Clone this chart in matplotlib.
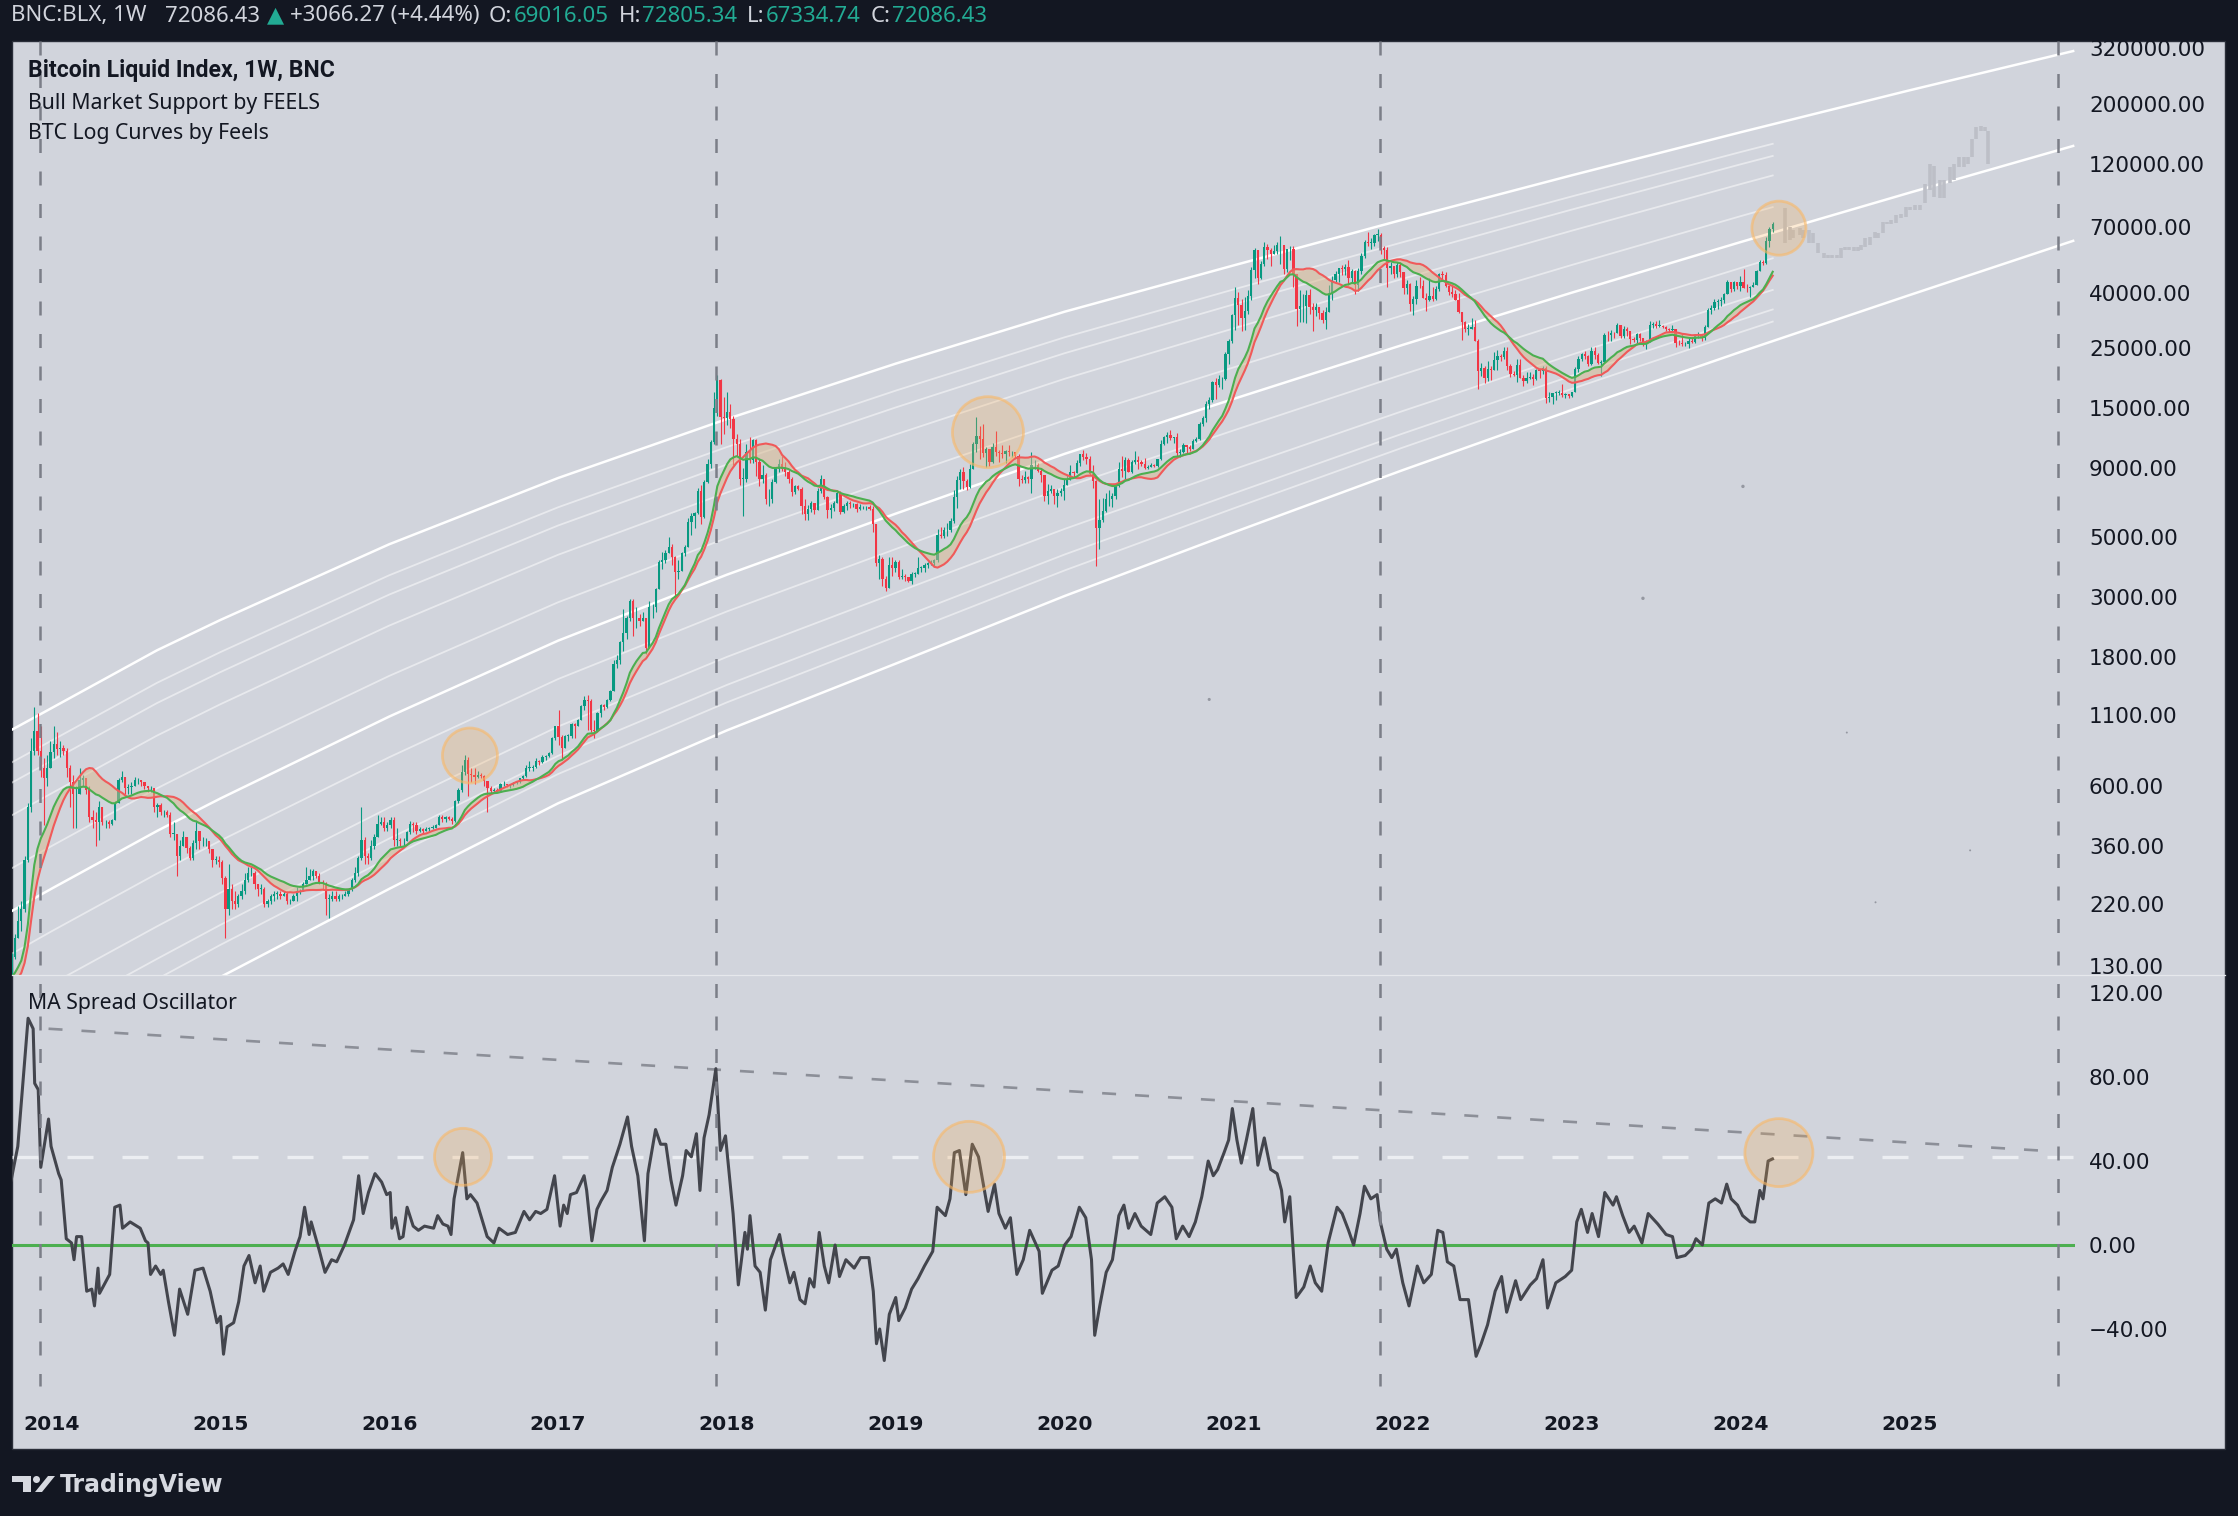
import numpy as np
import pandas as pd
import matplotlib
matplotlib.use("Agg")
import matplotlib.pyplot as plt
import matplotlib.ticker as mticker
from matplotlib.lines import Line2D
from matplotlib.patches import Rectangle, Polygon, Ellipse
from matplotlib.transforms import blended_transform_factory

# weekly candles (close, high, low), Monday dated, last week = 2024-03-11
w2013 = [(122,125,110),(131,134,120),(129,135,118),(108,125,100),(100,110,95),(107,112,98),(92,107,88),
         (76,95,66),(97,99,72),(90,100,86),(95,97,87),(104,106,94),(106,110,100),(101,108,96),(120,124,100),
         (128,135,118),(122,130,110),(125,132,120),(124,128,120),(131,134,122),(124,143,100),(140,145,120),
         (165,170,138),(190,216,165),(210,225,175),(320,330,205),(500,520,315),(810,900,480),(960,1175,780),
         (810,1120,780),(700,1000,650),(640,760,430),(700,780,600),(800,880,700)]
w2014 = [(860,1000,760),(820,950,780),(830,880,770),(810,850,780),(700,830,650),(620,720,500),(560,660,420),
         (560,600,420),(630,700,560),(640,660,600),(580,640,560),(460,600,440),(450,490,420),(440,480,360),
         (500,530,380),(440,500,430),(440,450,420),(435,450,420),(450,455,430),(520,530,450),(630,640,520),
         (650,680,620),(590,650,560),(595,610,560),(600,620,560),(630,650,600),(630,640,610),(620,630,600),
         (600,620,585),(590,600,570),(590,600,570),(500,590,480),(510,520,460),(480,520,470),(480,490,460),
         (470,490,460),(400,480,390),(400,440,380),(330,400,280),(360,380,320),(390,410,360),(355,380,340),
         (325,360,320),(370,380,320),(410,450,350),(375,400,350),(375,390,360),(375,385,360),(350,360,340),
         (320,350,300),(320,330,310),(315,330,300)]
w2015 = [(275,320,260),(210,280,165),(250,310,200),(225,260,210),(220,245,210),(235,240,215),(245,260,230),
         (270,285,240),(285,300,265),(285,300,280),(260,290,250),(250,260,235),(250,260,240),(220,255,215),
         (225,230,215),(235,240,220),(240,245,225),(240,245,230),(235,245,230),(240,245,235),(225,245,220),
         (225,230,220),(235,240,225),(245,255,225),(245,250,240),(260,265,245),(270,300,260),(280,295,270),
         (290,295,270),(280,290,275),(265,285,260),(260,270,250),(230,265,200),(230,240,195),(235,245,225),
         (230,245,225),(235,240,225),(235,240,230),(240,245,235),(250,250,235),(270,275,245),(285,300,265),
         (325,330,280),(380,500,320),(330,390,310),(325,340,310),(360,380,320),(390,400,350),(435,470,390),
         (440,460,430),(420,460,410),(430,440,410)]
w2016 = [(450,460,420),(380,460,360),(380,420,360),(375,385,360),(375,385,360),(405,410,375),(435,445,400),
         (430,440,405),(410,440,400),(415,425,405),(410,420,400),(415,425,410),(420,425,410),(420,430,415),
         (430,435,420),(460,470,430),(455,470,440),(460,465,440),(455,465,450),(445,460,435),(530,535,440),
         (580,590,520),(675,720,570),(750,780,660),(665,770,550),(660,700,620),(650,700,610),(660,680,640),
         (655,670,640),(625,660,600),(590,620,480),(575,600,560),(580,590,570),(575,590,570),(610,615,570),
         (610,625,600),(605,610,595),(605,610,590),(615,620,600),(620,625,610),(640,645,615),(655,660,630),
         (700,720,650),(700,740,680),(705,720,680),(740,760,700),(735,750,720),(765,780,730),(775,780,750),
         (795,800,770),(900,910,790),(1000,1000,890)]
w2017 = [(910,1150,850),(830,930,750),(920,930,830),(920,935,880),(1020,1030,900),(1000,1030,900),
         (1050,1060,1000),(1190,1200,1050),(1250,1290,1150),(1235,1300,970),(970,1260,950),(960,1050,900),
         (1120,1130,950),(1200,1210,1080),(1180,1210,1150),(1250,1260,1170),(1350,1360,1240),(1700,1750,1350),
         (1750,1830,1640),(2050,2070,1700),(2200,2700,1900),(2500,2550,2100),(2900,2950,2450),(2500,2950,2150),
         (2500,2750,2300),(2450,2600,2350),(2500,2650,2450),(1950,2450,1850),(2750,2900,1950),(2750,2820,2500),
         (3200,3250,2650),(4050,4100,3200),(4100,4400,3800),(4350,4460,3990),(4600,4980,4400),(4200,4700,3950),
         (3700,4250,2970),(3750,4100,3500),(4350,4400,3800),(4600,4650,4250),(5700,5860,4600),(6000,6150,5100),
         (6150,6200,5400),(7400,7600,6100),(5950,7800,5600),(8000,8100,5900),(9300,9700,7900),(11200,11400,9000),
         (15000,17200,11000),(19000,19800,14000),(13900,19200,11000),(13800,16500,12000)]
w2018 = [(14500,17200,13000),(13600,15500,12600),(11500,14000,9200),(11000,12000,10000),(8200,11500,7800),
         (8200,9000,6000),(10300,11000,8000),(9600,11700,9400),(11400,11500,9400),(9500,11500,8400),
         (8200,9800,7700),(8500,9200,7900),(6900,8600,6600),(6900,7500,6500),(8000,8200,6700),(8900,9000,7900),
         (9300,9700,8700),(8900,9950,8800),(8700,9500,8400),(8200,8850,7900),(7350,8300,7100),(7700,7800,7200),
         (7500,7800,7450),(6500,7650,6100),(6100,6900,5800),(6350,6550,5800),(6700,6800,6200),(6300,6700,6100),
         (7400,7600,6300),(8200,8500,7300),(7000,8200,6900),(6300,7100,5900),(6400,6600,5900),(6700,6800,6250),
         (7300,7400,6700),(6200,7400,6100),(6500,6600,6150),(6700,6800,6300),(6600,6800,6400),(6600,6700,6450),
         (6350,6650,6200),(6450,6600,6300),(6450,6500,6350),(6450,6500,6300),(6350,6550,6300),(5600,6500,5200),
         (4000,5600,3900),(4150,4300,3500),(3500,4200,3300),(3250,3600,3150),(3950,4200,3250),(3850,4200,3600),
         (4050,4100,3700)]
w2019 = [(3550,4100,3500),(3600,3800,3500),(3550,3650,3450),(3450,3550,3400),(3650,3700,3350),(3650,3700,3550),
         (3850,4200,3650),(3850,3900,3700),(3950,3990,3700),(4000,4050,3850),(4000,4100,3950),(4100,4150,3900),
         (5100,5350,4050),(5050,5450,4950),(5300,5450,4950),(5300,5650,5050),(5750,5900,5200),(7000,7450,5650),
         (8100,8400,6400),(8700,8900,7500),(8050,9100,7500),(7650,8200,7450),(8950,9300,7600),(11000,11200,8900),
         (11850,13900,10300),(11500,12900,9700),(10200,13100,9900),(10600,10800,9050),(9500,10600,9150),
         (10800,11100,9400),(10300,12300,10000),(10200,10500,9500),(10150,10900,9800),(10400,10500,9350),
         (10300,10900,10000),(10300,10400,9900),(10000,10300,9750),(8200,10100,7700),(8150,8500,7900),
         (8300,8800,7900),(8200,8400,7900),(9200,10300,7300),(9200,9600,8900),(8800,9350,8700),(8500,8900,8000),
         (7100,8300,6800),(7400,7850,6600),(7550,7750,7250),(7100,7550,6600),(7250,7500,6450),(7400,7600,7100),
         (7750,8200,6850)]
w2020 = [(8150,8500,7750),(8700,9200,8100),(8600,8800,8300),(9400,9600,8600),(10100,10150,9150),(9900,10500,9650),
         (9700,10200,9300),(8550,9950,8500),(8050,9200,7600),(5400,8150,3900),(5800,6900,4500),(6250,6950,5700),
         (6900,7300,6200),(6900,7450,6500),(7100,7300,6450),(7700,7800,6900),(8900,9450,7650),(8750,10000,8350),
         (9650,9850,8200),(8700,9800,8700),(9450,9600,8650),(9650,10400,9300),(9450,9950,8950),(9300,9600,9150),
         (9000,9800,8900),(9100,9200,8950),(9250,9400,9050),(9150,9300,9050),(9700,9750,9100),(11050,11400,9650),
         (11700,11850,10950),(11900,12200,11150),(11650,12450,11400),(11700,11750,11100),(10250,12100,9900),
         (10300,10600,9900),(10900,11150,10200),(10800,10950,10150),(10600,10950,10400),(11300,11500,10550),
         (11500,11750,11200),(13100,13350,11450),(13800,14050,12900),(15500,15900,13250),(16050,16500,14800),
         (18700,18900,15800),(18200,19400,16200),(19150,19900,18000),(19250,19450,17600),(23800,24200,19050),
         (26500,27000,21800),(33000,33500,26100)]
w2021 = [(38200,41950,29000),(36000,40100,30400),(32200,37900,28800),(34300,38500,29200),(39000,40950,33400),
         (48600,49700,37500),(57500,58300,45500),(45200,57400,43000),(51000,52600,44900),(59000,61800,50300),
         (57400,60600,53200),(55800,58400,50400),(57100,60200,56000),(60000,61500,55500),(60000,64850,51000),
         (49100,57400,47000),(57800,58000,47600),(58200,59600,53000),(46800,59600,42100),(34800,46600,30000),
         (35700,40800,31100),(35800,39500,31200),(39100,40900,31000),(35500,41400,33300),(34600,36700,28800),
         (35300,36600,32700),(33700,35000,32100),(31800,34600,31000),(34000,35400,29300),(39900,42600,34000),
         (44600,46200,37500),(47000,48000,43800),(49300,49400,43900),(48900,50500,46500),(49900,51000,46500),
         (45200,52900,42800),(48300,48800,43500),(42800,48400,39600),(48200,49200,40700),(54700,56100,47100),
         (61500,62900,53900),(61300,67000,59500),(61300,63700,58000),(65500,66000,59600),(65500,69000,62300),
         (58600,66300,55600),(57300,59400,53300),(49400,59100,42000),(50100,51900,46800),(46800,49500,45500),
         (50800,51900,45600),(47700,52100,45700)]
w2022 = [(41800,47500,39700),(43100,44400,39600),(36300,43500,34100),(37900,38900,32950),(42400,44500,36300),
         (42200,45800,41800),(38300,44500,38100),(37700,40000,34300),(38800,45400,37200),(37800,42000,37200),
         (41300,42300,37600),(46800,47300,40500),(46400,48200,44200),(42200,47700,42100),(40400,42400,39200),
         (39500,42900,38600),(37700,40800,37600),(34000,39900,33700),(31300,34000,26700),(29400,31400,28600),
         (29400,30600,28000),(29900,32200,29300),(26600,31700,26600),(20550,26900,17600),(21000,21900,19600),
         (19300,21500,18600),(20850,22400,18900),(20800,21500,18950),(22600,24200,20800),(23300,24600,20700),
         (23200,23650,22400),(24300,25200,22700),(21500,25200,20800),(20000,21800,19550),(19800,20550,19600),
         (21650,22700,18700),(19400,22800,19300),(18800,19900,18150),(19300,20350,18500),(19450,20450,19150),
         (19200,19950,18200),(20800,20850,18950),(20600,21050,19300),(21100,21450,20050),(16300,21450,15600),
         (16500,17150,15800),(17050,17100,15450),(17100,17350,16000),(17100,17450,16700),(16750,18400,16500),
         (16850,17000,16300),(16600,16950,16300)]
w2023 = [(17150,17200,16500),(20850,21300,17200),(22700,23300,20400),(23750,23950,22300),(23300,24250,22700),
         (21800,23450,21400),(24300,25250,21550),(23550,25100,22800),(22000,23850,21800),(22100,22600,19600),
         (28000,28500,21900),(27800,28900,26600),(28450,29200,26550),(28300,28700,27300),(30300,31000,28300),
         (27600,30450,27100),(29250,30050,27150),(28800,29800,27750),(26900,28300,25800),(26750,27400,26400),
         (28100,28450,26000),(27100,28450,26600),(25850,27300,25350),(26350,26800,24800),(30500,31400,26300),
         (30600,31300,29500),(30200,31500,29700),(30250,31800,29950),(29850,30300,29500),(29300,30000,28900),
         (29050,29700,28600),(29400,30300,28700),(26100,29450,25200),(26000,26800,25600),(25850,28150,25350),
         (25850,26400,25500),(26550,27450,24900),(26250,27500,26000),(27950,28000,26000),(27950,28600,27200),
         (27150,28000,26550),(29900,30350,26800),(34500,35200,29800),(35000,35900,33400),(37050,37950,34600),
         (37350,37950,34800),(37450,38450,35700),(39450,40000,36700),(43750,44700,39400),(41350,43450,40200),
         (43700,44200,40600),(42250,43800,41400)]
w2024 = [(43950,45950,40600),(41750,48950,41500),(41600,43200,40300),(42050,42250,38500),(42600,43800,41900),
         (48300,48550,42550),(52100,52800,48100),(51700,52950,50600),(62000,64000,51000),(69016,70100,59000),
         (72086,72805,67334)]

# faded projection bars (year, low, high)
ghost = [(2024.265,60900,82000),(2024.293,62600,70100),(2024.313,63500,68200),(2024.350,65400,69200),
         (2024.370,63500,68200),(2024.407,60900,68200),(2024.431,60900,66300),(2024.462,55900,60900),
         (2024.492,53600,55900),(2024.517,53600,55100),(2024.543,53600,55100),(2024.570,53600,55100),
         (2024.594,53600,58300),(2024.618,57500,59100),(2024.645,57500,58800),(2024.671,57200,58800),
         (2024.695,57200,58800),(2024.716,57500,60000),(2024.740,59100,63500),(2024.767,60000,64400),
         (2024.797,63500,67300),(2024.817,63500,66300),(2024.842,66300,73200),(2024.868,71900,73200),
         (2024.894,71900,74200),(2024.923,72200,77500),(2024.949,75400,78500),(2024.980,76400,83100),
         (2025.004,80800,83100),(2025.031,80800,84300),(2025.061,81200,84300),(2025.092,85500,101000),
         (2025.122,95900,120000),(2025.149,90500,118000),(2025.183,89300,104000),(2025.207,89300,104000),
         (2025.240,102000,117000),(2025.264,104000,120000),(2025.295,117000,127000),(2025.321,117000,127000),
         (2025.346,120000,127000),(2025.370,127000,148000),(2025.397,148000,164000),(2025.423,158000,165000),
         (2025.447,158000,164000),(2025.468,120000,158000)]

# log curve band (upper / lower) anchors
curve_yr = [2013.75, 2014, 2014.625, 2015, 2016, 2017, 2018, 2019, 2020, 2021, 2022, 2023, 2024, 2025, 2026]
curve_top = [957, 1164, 1905, 2466, 4699, 8260, 13650, 21880, 34040, 50470, 74470, 108600, 156700, 223900, 316200]
curve_bot = [43.7, 53.8, 87.9, 118, 250, 518, 964, 1702, 3027, 5200, 8830, 14720, 24150, 39170, 63100]
thin_levels = [0.09, 0.146, 0.236, 0.382, 0.618, 0.764, 0.854, 0.91]
thick_levels = [0.0, 0.5, 1.0]

# MA spread oscillator (year, value)
osc_pts = [(2013.762,31),(2013.801,47),(2013.862,108),(2013.892,103),(2013.901,77),(2013.922,74),(2013.937,37),
    (2013.983,60),(2013.998,47),(2014.043,34),(2014.058,31),(2014.088,3),(2014.119,1),(2014.134,-7),(2014.149,4),
    (2014.179,4),(2014.209,-22),(2014.239,-21),(2014.255,-29),(2014.276,-11),(2014.285,-23),(2014.345,-14),
    (2014.375,18),(2014.406,19),(2014.421,8),(2014.466,11),(2014.526,8),(2014.557,2),(2014.572,1),(2014.587,-14),
    (2014.617,-10),(2014.647,-14),(2014.662,-12),(2014.693,-27),(2014.729,-43),(2014.759,-21),(2014.807,-33),
    (2014.850,-12),(2014.898,-11),(2014.940,-22),(2014.980,-37),(2015.001,-34),(2015.019,-52),(2015.040,-39),
    (2015.079,-37),(2015.109,-27),(2015.140,-10),(2015.170,-5),(2015.206,-18),(2015.236,-10),(2015.257,-22),
    (2015.297,-13),(2015.342,-11),(2015.372,-9),(2015.402,-14),(2015.442,-3),(2015.472,4),(2015.499,18),
    (2015.526,5),(2015.538,11),(2015.584,-2),(2015.620,-13),(2015.659,-7),(2015.689,-8),(2015.735,0),(2015.789,12),
    (2015.819,33),(2015.846,15),(2015.877,25),(2015.916,34),(2015.955,30),(2015.985,24),(2016.006,25),(2016.016,8),
    (2016.037,13),(2016.061,3),(2016.082,4),(2016.106,18),(2016.142,9),(2016.173,7),(2016.209,9),(2016.263,8),
    (2016.287,14),(2016.318,10),(2016.348,9),(2016.366,5),(2016.384,22),(2016.435,44),(2016.460,22),(2016.481,24),
    (2016.520,20),(2016.580,4),(2016.620,1),(2016.650,8),(2016.701,5),(2016.747,6),(2016.798,16),(2016.831,12),
    (2016.867,16),(2016.897,15),(2016.934,17),(2016.979,33),(2017.012,9),(2017.033,19),(2017.054,15),(2017.073,24),
    (2017.109,25),(2017.154,33),(2017.169,26),(2017.200,2),(2017.230,17),(2017.254,21),(2017.290,26),(2017.321,37),
    (2017.366,48),(2017.411,61),(2017.435,47),(2017.472,33),(2017.511,2),(2017.532,34),(2017.577,55),(2017.607,48),
    (2017.638,48),(2017.668,31),(2017.698,19),(2017.737,33),(2017.758,45),(2017.789,42),(2017.819,53),(2017.840,26),
    (2017.864,51),(2017.894,62),(2017.934,84),(2017.961,45),(2017.991,52),(2018.036,15),(2018.067,-19),(2018.106,6),
    (2018.121,-2),(2018.136,14),(2018.166,-10),(2018.196,-13),(2018.227,-31),(2018.257,-7),(2018.311,5),
    (2018.332,-4),(2018.372,-18),(2018.396,-13),(2018.432,-26),(2018.462,-28),(2018.489,-16),(2018.515,-20),
    (2018.546,6),(2018.576,-10),(2018.602,-18),(2018.640,0),(2018.666,-15),(2018.704,-7),(2018.753,-11),
    (2018.791,-6),(2018.840,-6),(2018.866,-22),(2018.885,-47),(2018.904,-40),(2018.931,-55),(2018.961,-33),
    (2018.999,-25),(2019.017,-36),(2019.055,-30),(2019.093,-21),(2019.131,-16),(2019.169,-10),(2019.218,-3),
    (2019.244,18),(2019.293,14),(2019.320,22),(2019.346,44),(2019.376,45),(2019.414,24),(2019.452,48),(2019.489,42),
    (2019.520,28),(2019.546,16),(2019.584,29),(2019.610,15),(2019.648,8),(2019.678,13),(2019.716,-14),(2019.754,-7),
    (2019.792,7),(2019.848,-3),(2019.867,-23),(2019.924,-12),(2019.961,-10),(2019.999,0),(2020.037,4),(2020.086,18),
    (2020.124,13),(2020.158,-7),(2020.177,-43),(2020.207,-29),(2020.245,-13),(2020.282,-7),(2020.320,14),
    (2020.350,19),(2020.377,8),(2020.415,15),(2020.452,9),(2020.509,5),(2020.547,20),(2020.592,23),(2020.634,18),
    (2020.660,3),(2020.698,9),(2020.736,4),(2020.773,11),(2020.811,23),(2020.849,40),(2020.879,33),(2020.905,36),
    (2020.943,44),(2020.970,50),(2020.992,65),(2021.019,50),(2021.045,39),(2021.075,50),(2021.113,65),(2021.143,38),
    (2021.181,51),(2021.219,36),(2021.257,34),(2021.283,26),(2021.302,11),(2021.332,23),(2021.370,-25),
    (2021.415,-20),(2021.453,-10),(2021.483,-18),(2021.521,-22),(2021.559,1),(2021.612,18),(2021.642,15),
    (2021.680,7),(2021.710,0),(2021.748,15),(2021.774,28),(2021.812,22),(2021.849,24),(2021.868,11),(2021.906,-2),
    (2021.936,-6),(2021.963,-2),(2022.001,-18),(2022.038,-29),(2022.087,-10),(2022.125,-18),(2022.170,-14),
    (2022.208,7),(2022.238,6),(2022.265,-8),(2022.303,-10),(2022.340,-26),(2022.390,-26),(2022.435,-53),
    (2022.465,-47),(2022.503,-38),(2022.548,-22),(2022.586,-15),(2022.616,-32),(2022.669,-17),(2022.699,-26),
    (2022.756,-19),(2022.793,-16),(2022.831,-7),(2022.858,-30),(2022.907,-18),(2022.963,-15),(2023.001,-12),
    (2023.031,11),(2023.058,17),(2023.095,6),(2023.122,15),(2023.160,4),(2023.197,25),(2023.246,19),(2023.266,23),
    (2023.303,14),(2023.341,6),(2023.371,9),(2023.417,1),(2023.454,15),(2023.511,10),(2023.560,5),(2023.598,4),
    (2023.624,-6),(2023.673,-5),(2023.711,-2),(2023.737,3),(2023.775,0),(2023.813,20),(2023.851,22),(2023.888,20),
    (2023.919,29),(2023.945,22),(2023.983,19),(2024.013,14),(2024.058,11),(2024.085,11),(2024.115,26),
    (2024.134,22),(2024.164,40),(2024.190,41)]
osc_trend = [(2013.983, 103), (2025.772, 45)]
osc_level = 42

cycle_tops = [2013.93, 2017.937, 2021.866, 2025.88]
price_marks = [(2016.478, 778), (2019.545, 12200), (2024.228, 69300)]
osc_marks = [(2016.437, 42), (2019.433, 42), (2024.228, 44)]
stray_dots = [(2024.015, 7690), (2023.423, 2966), (2020.855, 1254), (2024.63, 946), (2025.36, 347), (2024.80, 223)]

price_ticks = [320000, 200000, 120000, 70000, 40000, 25000, 15000, 9000, 5000, 3000, 1800, 1100, 600, 360, 220, 130]
osc_ticks = [120, 80, 40, 0, -40]
years = list(range(2014, 2026))

header = [("BNC:BLX, 1W", "L", 0), ("72086.43", "L", 19), ("\u25b2", "T", 6), ("+3066.27 (+4.44%)", "L", 6),
          ("O:", "L", 10), ("69016.05", "T", 1), ("H:", "L", 10), ("72805.34", "T", 1),
          ("L:", "L", 10), ("67334.74", "T", 1), ("C:", "L", 10), ("72086.43", "T", 1)]

# ---------------------------------------------------------------------------
BG = "#d1d4dc"
DARK = "#131722"
UP, DN = "#089981", "#f23645"
FONT = ["Noto Sans", "DejaVu Sans"]
BOLD_FONT = ["Roboto", "DejaVu Sans"]

W, H = 2238, 1516
fig = plt.figure(figsize=(W / 100, H / 100), dpi=100, facecolor=DARK)

def fx(p):
    return p / W

def fy(p):
    return 1 - p / H

L, R, RA = 12, 2075, 2225
T, SEP, B, BOT = 41, 975, 1392, 1449
XMIN, XMAX = 2013.7667, 2025.981
XEND = 2025.97

fig.patches.append(Rectangle((fx(L), fy(BOT)), fx(RA) - fx(L), fy(T) - fy(BOT), transform=fig.transFigure,
                             facecolor=BG, edgecolor="#2a2e39", lw=1, zorder=-5))
ax1 = fig.add_axes([fx(L), fy(SEP), fx(R) - fx(L), fy(T) - fy(SEP)])
ax2 = fig.add_axes([fx(L), fy(B), fx(R) - fx(L), fy(SEP) - fy(B)])
for ax in (ax1, ax2):
    ax.set_facecolor("none")
    for s in ax.spines.values():
        s.set_visible(False)
    ax.set_xlim(XMIN, XMAX)

# candles
weeks = w2013 + w2014 + w2015 + w2016 + w2017 + w2018 + w2019 + w2020 + w2021 + w2022 + w2023 + w2024
dates = pd.date_range(end="2024-03-11", periods=len(weeks), freq="W-MON")
t = dates.year.to_numpy() + (dates.dayofyear.to_numpy() - 1) / np.where(dates.is_leap_year, 366, 365)
c = np.array([w[0] for w in weeks], float)
h = np.array([w[1] for w in weeks], float)
l = np.array([w[2] for w in weeks], float)
o = np.r_[c[0], c[:-1]]
h = np.maximum(h, np.maximum(o, c))
l = np.minimum(l, np.minimum(o, c))
col = np.where(c >= o, UP, DN)

ax1.set_yscale("log")
ax1.set_ylim(120.1, 340900)

# log curves
cy = np.array(curve_yr)
lt = np.log10(curve_top)
lb = np.log10(curve_bot)

def level(f, end):
    m = cy < end
    lv = lb + f * (lt - lb)
    return np.r_[cy[m], end], 10 ** np.r_[lv[m], np.interp(end, cy, lv)]

for f in thin_levels:
    xs, ys = level(f, t[-1])
    ax1.plot(xs, ys, color="white", alpha=0.5, lw=1.3, zorder=1)
for f in thick_levels:
    xs, ys = level(f, XEND)
    ax1.plot(xs, ys, color="white", lw=1.8, zorder=1.2)

ax1.scatter([d[0] for d in stray_dots], [d[1] for d in stray_dots], s=[6, 6, 5, 2, 2, 2],
            color="#9598a1", lw=0, zorder=1.5)

gx = [g[0] for g in ghost]
ax1.vlines(gx, [g[1] for g in ghost], [g[2] for g in ghost], colors="#bdbfc7", lw=2.6, zorder=2)

ax1.vlines(t, l, h, colors=col, lw=0.8, zorder=3)
ax1.bar(t, np.maximum(np.abs(c - o), 0.004 * c), bottom=np.minimum(o, c), width=0.0135,
        color=col, lw=0, zorder=3)

sc = pd.Series(c)
sma = sc.rolling(20).mean().to_numpy()
ema = sc.ewm(span=21, adjust=False).mean().to_numpy()
ax1.fill_between(t, sma, ema, color="#d9b88a", alpha=0.5, lw=0, zorder=4)
ax1.plot(t, sma, color="#f05a5a", lw=1.5, zorder=5)
ax1.plot(t, ema, color="#4caf50", lw=1.5, zorder=5)

mark_face = (0.96, 0.67, 0.31, 0.24)
mark_edge = (0.98, 0.72, 0.40, 0.6)
ax1.scatter([m[0] for m in price_marks], [m[1] for m in price_marks], s=[1568, 2613, 1512],
            facecolors=[mark_face], edgecolors=[mark_edge], linewidths=2, zorder=7)

ax1.yaxis.tick_right()
ax1.set_yticks(price_ticks)
ax1.set_yticklabels([f"{v:.2f}" for v in price_ticks])
ax1.yaxis.set_minor_locator(mticker.NullLocator())
ax1.tick_params(axis="y", length=0, pad=10, labelsize=15.5, labelcolor=DARK)
ax1.set_xticks([])

# oscillator pane
ot = [p[0] for p in osc_pts]
ov = [p[1] for p in osc_pts]
ax2.set_ylim(-70, 128.6)
ax2.plot([XMIN, XEND], [0, 0], color="#4caf50", lw=2.2, zorder=2)
ax2.plot([XMIN, XEND], [osc_level, osc_level], color="#eceef2", lw=2.4, dashes=(7.8, 8.7), zorder=2)
ax2.plot([p[0] for p in osc_trend], [p[1] for p in osc_trend], color="#8c8f98", lw=1.9,
         dashes=(5.3, 7.2), zorder=2)
ax2.plot(ot, ov, color="#43454d", lw=2.2, zorder=4)
ax2.scatter([m[0] for m in osc_marks], [m[1] for m in osc_marks], s=[1684, 2613, 2397],
            facecolors=[mark_face], edgecolors=[mark_edge], linewidths=2, zorder=7)

ax2.yaxis.tick_right()
ax2.set_yticks(osc_ticks)
ax2.set_yticklabels([f"{v:.2f}".replace("-", "\u2212") for v in osc_ticks])
ax2.tick_params(axis="y", length=0, pad=10, labelsize=15.5, labelcolor=DARK)
ax2.set_xticks(years)
ax2.set_xticklabels([str(y) for y in years], fontweight="bold")
ax2.tick_params(axis="x", length=0, pad=16.3, labelsize=14.6, labelcolor=DARK)

# cycle top markers across both panes
btf = blended_transform_factory(ax1.transData, fig.transFigure)
for x in cycle_tops:
    fig.lines.append(Line2D([x, x], [fy(T), fy(1386)], transform=btf, color="#7b7e88", lw=1.8,
                            linestyle=(0, (5.6, 7.4)), zorder=6))
fig.lines.append(Line2D([fx(L), fx(RA)], [fy(SEP), fy(SEP)], transform=fig.transFigure,
                        color="#e6e8ec", lw=0.9, zorder=6))

# header
rend = fig.canvas.get_renderer()
x = 11
for s, kind, gap in header:
    x += gap
    tx = fig.text(fx(x), fy(16), s, color="#d1d4dc" if kind == "L" else "#22ab94",
                  fontsize=16, family=FONT, va="center", ha="left")
    x += tx.get_window_extent(rend).width

# legends
fig.text(fx(28), fy(71), "Bitcoin Liquid Index, 1W, BNC", fontsize=16.6, weight="bold", family=BOLD_FONT,
         color=DARK, va="center", zorder=8)
fig.text(fx(28), fy(103), "Bull Market Support by FEELS", fontsize=15.3, family=FONT, color=DARK,
         va="center", zorder=8)
fig.text(fx(28), fy(133), "BTC Log Curves by Feels", fontsize=15.3, family=FONT, color=DARK,
         va="center", zorder=8)
fig.text(fx(28), fy(1004), "MA Spread Oscillator", fontsize=15.3, family=FONT, color=DARK,
         va="center", zorder=8)

# TradingView logo
LOGO = "#d6d9e0"
fig.patches.append(Polygon([(fx(12), fy(1476)), (fx(31), fy(1476)), (fx(31), fy(1492)), (fx(23), fy(1492)),
                            (fx(23), fy(1482)), (fx(12), fy(1482))], closed=True, transform=fig.transFigure,
                           facecolor=LOGO, lw=0))
fig.patches.append(Ellipse((fx(36.5), fy(1479.5)), fx(7), 7 / H, transform=fig.transFigure,
                           facecolor=LOGO, lw=0))
fig.patches.append(Polygon([(fx(35), fy(1492)), (fx(42), fy(1492)), (fx(55), fy(1476)), (fx(48), fy(1476))],
                           closed=True, transform=fig.transFigure, facecolor=LOGO, lw=0))
fig.text(fx(60), fy(1485), "TradingView", fontsize=17, weight="bold", family=["DejaVu Sans"],
         color=LOGO, va="center", ha="left")

fig.savefig("out.png", dpi=100, facecolor=DARK)
